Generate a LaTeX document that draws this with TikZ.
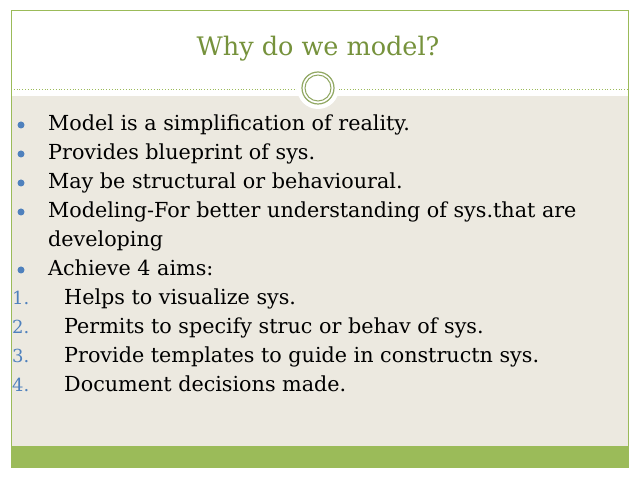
\documentclass[tikz,border=0pt]{standalone}
\usepackage{fontspec}
\setmainfont{DejaVu Serif}
\definecolor{tgreen}{RGB}{118,146,60}
\definecolor{bar}{RGB}{155,187,89}
\definecolor{beige}{RGB}{236,233,224}
\definecolor{nblue}{RGB}{79,129,189}
\begin{document}
\begin{tikzpicture}[x=1pt,y=-1pt,
  txt/.style={anchor=base west,inner sep=0,font=\fontsize{20.7}{24}\selectfont},
  num/.style={anchor=base west,inner sep=0,text=nblue,font=\fontsize{18}{22}\selectfont}]
\useasboundingbox (0,0) rectangle (638,478);
\fill[white] (0,0) rectangle (638,478);
\fill[beige] (11,96) rectangle (628,446);
\fill[bar] (11,446) rectangle (628,467);
\draw[bar,line width=0.8pt] (11,10) rectangle (628,467);
\draw[bar,dotted,line width=0.8pt] (11,89) -- (628,89);
\fill[white] (318,88) circle (21);
\draw[tgreen!80,line width=1.2pt] (318,88) circle (16);
\draw[tgreen!80,line width=1pt] (318,88) circle (13);
\node[anchor=base,inner sep=0,text=tgreen,font=\fontsize{25.5}{30}\selectfont] (title) at (318,56) {Why do we model?};
\foreach \y/\t [count=\i] in {131/{Model is a simplification of reality.},160/{Provides blueprint of sys.},189/{May be structural or behavioural.},218/{Modeling-For better understanding of sys.that are},276/{Achieve 4 aims:}}{
  \fill[nblue] (21,\y-6) circle (3.5);
  \node[txt] (b\i) at (48,\y) {\t};
}
\node[txt] (b6) at (48,247) {developing};
\foreach \y/\n/\t [count=\i] in {305/1./{Helps to visualize sys.},334/2./{Permits to specify struc or behav of sys.},363/3./{Provide templates to guide in constructn sys.},392/4./{Document decisions made.}}{
  \node[num] (n\i) at (12,\y) {\n};
  \node[txt] (t\i) at (64,\y) {\t};
}
\end{tikzpicture}
\end{document}
